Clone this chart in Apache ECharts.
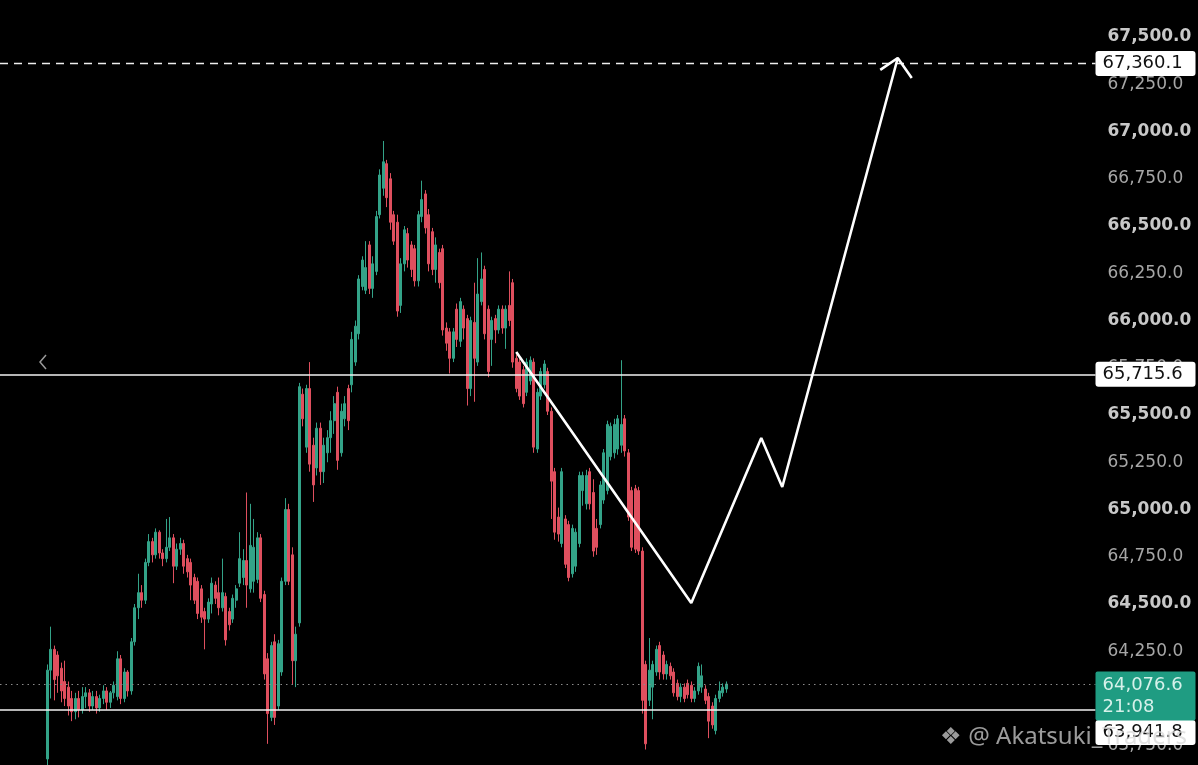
<!DOCTYPE html>
<html>
<head>
<meta charset="utf-8">
<script src="https://cdn.jsdelivr.net/npm/echarts@6/dist/echarts.min.js"></script>
<style>
html,body{margin:0;padding:0;background:#000;}
#c{width:1198px;height:765px;}
</style>
</head>
<body>
<div id="c"></div>
<script>
// candles: [open, close, low, high]
const candles = [
[63680,64150,63620,64180],[64150,64260,64000,64380],[64260,64100,63990,64280],[64230,64120,64030,64250],
[64160,64040,63980,64190],[64090,64000,63960,64200],[64060,63960,63910,64090],[64000,63930,63880,64040],
[63930,64000,63890,64030],[64000,63940,63900,64040],[63940,64010,63920,64060],[64010,64030,63950,64060],
[64030,63960,63930,64050],[63960,64010,63940,64040],[64010,63950,63920,64040],[63950,64000,63930,64020],
[64000,64040,63970,64070],[64040,63980,63940,64060],[63980,64030,63950,64040],[64030,64070,64000,64090],
[64010,64210,63990,64250],[64210,64000,63970,64230],[64000,64140,63980,64160],[64140,64040,64010,64150],
[64040,64300,64020,64320],[64300,64480,64280,64500],[64480,64560,64420,64660],[64560,64520,64480,64600],
[64520,64720,64500,64740],[64720,64830,64700,64870],[64830,64760,64720,64850],[64760,64880,64740,64900],
[64880,64770,64740,64890],[64770,64740,64700,64790],[64740,64800,64720,64950],[64800,64850,64780,64960],
[64850,64700,64610,64870],[64700,64790,64680,64820],[64790,64820,64760,64850],[64820,64700,64660,64840],
[64740,64670,64640,64760],[64720,64600,64520,64740],[64640,64520,64500,64660],[64620,64450,64420,64640],
[64580,64430,64400,64600],[64460,64420,64260,64480],[64420,64510,64400,64530],[64500,64610,64450,64640],
[64600,64530,64500,64620],[64560,64480,64440,64640],[64480,64560,64460,64740],[64540,64310,64280,64560],
[64460,64390,64360,64480],[64420,64530,64400,64550],[64520,64580,64480,64600],[64610,64740,64590,64880],
[64640,64730,64600,64790],[64730,64600,64480,65090],[64580,64810,64560,65030],[64620,64800,64560,64950],
[64630,64850,64610,64880],[64850,64530,64510,64870],[64550,64130,64100,64570],[64210,63920,63760,64240],
[63900,64280,63880,64300],[64300,63900,63860,64340],[63960,64290,63940,64310],[64140,64620,64120,64640],
[64620,65000,64600,65060],[65000,64620,64600,65030],[64760,64200,64075,64800],[64200,64340,64060,64380],
[64400,65650,64380,65670],[65610,65480,65440,65640],[65330,65640,65300,65660],[65640,65240,65200,65780],
[65340,65130,65040,65380],[65220,65430,65180,65460],[65430,65200,65130,65460],[65200,65340,65140,65380],
[65300,65380,65250,65420],[65380,65470,65300,65520],[65470,65560,65400,65600],[65620,65260,65210,65650],
[65300,65520,65280,65560],[65480,65560,65440,65600],[65640,65470,65420,65660],[65660,65900,65620,65940],
[65780,65970,65760,66000],[65930,66220,65900,66240],[66180,66320,66160,66340],[66160,66280,66140,66420],
[66400,66170,66140,66420],[66170,66300,66120,66340],[66260,66550,66240,66580],[66560,66770,66540,66800],
[66700,66840,66660,66950],[66830,66650,66600,66850],[66750,66520,66480,66780],[66560,66420,66400,66580],
[66520,66050,66020,66560],[66080,66300,66040,66330],[66300,66480,66260,66500],[66460,66320,66280,66490],
[66400,66270,66230,66420],[66380,66210,66180,66400],[66210,66560,66180,66580],[66550,66640,66520,66740],
[66670,66490,66460,66690],[66560,66300,66260,66590],[66470,66270,66240,66490],[66270,66400,66200,66440],
[66360,66200,66170,66380],[66380,65950,65920,66400],[65960,65880,65840,65990],[65940,65800,65720,65960],
[65800,65940,65780,65960],[66060,65900,65860,66090],[65890,66100,65860,66120],[66060,65960,65900,66080],
[66010,65640,65550,66030],[65640,66000,65600,66020],[65990,65800,65570,66200],[65780,66140,65760,66330],
[66100,66220,66080,66360],[66270,65930,65900,66290],[66060,65730,65700,66080],[65900,66000,65760,66020],
[66010,65950,65880,66030],[65950,66060,65930,66080],[66060,65960,65930,66080],[65960,66060,65850,66080],
[66080,66000,65970,66260],[66200,65780,65750,66220],[65800,65640,65620,65820],[65780,65600,65580,65800],
[65740,65560,65540,65760],[65620,65780,65600,65800],[65680,65790,65660,65810],[65780,65330,65300,65800],
[65320,65620,65300,65640],[65600,65730,65580,65750],[65660,65770,65640,65790],[65730,65520,65500,65750],
[65520,65150,64950,65540],[65200,64880,64840,65220],[64960,64870,64830,65010],[64820,65200,64800,65220],
[64950,64710,64690,64970],[64920,64640,64620,64940],[64660,64900,64640,64920],[64700,64880,64670,64900],
[64820,65180,64800,65200],[65100,65180,65020,65200],[65030,65180,65000,65210],[65200,65030,65000,65220],
[65090,64780,64750,65160],[64900,64800,64760,64950],[64920,65130,64900,65150],[65050,65300,65030,65320],
[65100,65450,65080,65470],[65280,65440,65260,65460],[65300,65450,65270,65480],[65320,65480,65290,65500],
[65340,65450,65300,65790],[65480,65310,65280,65500],[65300,64960,64940,65320],[65100,64800,64780,65120],
[65110,64790,64770,65130],[65100,64780,64760,65120],[64780,63990,63920,64800],[64180,63760,63730,64200],
[63990,64150,63960,64320],[64060,64180,63890,64200],[64140,64260,64120,64280],[64280,64140,64100,64300],
[64230,64130,64100,64250],[64130,64180,64100,64200],[64170,64120,64100,64190],[64140,64030,64010,64160],
[64080,64010,63990,64100],[64010,64060,63980,64080],[64060,64000,63980,64080],[64080,64020,64000,64100],
[64070,64000,63980,64090],[64000,64040,63980,64060],[64040,64170,64020,64190],[64060,64120,64030,64180],
[64050,63990,63970,64070],[64010,63880,63790,64030],[63960,63860,63840,63980],[63830,64000,63810,64020],
[64000,64040,63980,64090],[64030,64060,64010,64080],[64050,64076.6,64030,64090]
];
// price axis tick labels
const tickValues = [63750,64000,64250,64500,64750,65000,65250,65500,65750,66000,66250,66500,66750,67000,67250,67500];
// horizontal levels
const targetLevel = 67360.1;
const resistLevel = 65715.6;
const supportLevel = 63941.8;
const lastPrice = 64076.6;
const lastTime = '21:08';
// hand-drawn projection path: [slot index, price]
const arrowPath = [[147,65833],[197,64505],[217,65378],[223,65119],[256,67389]];
const arrowHead = [[251,67326],[256,67389],[260,67283]];

const TOTAL_SLOTS = 313;
const LEAD = 13;
const slots = Array.from({length: TOTAL_SLOTS}, (_, i) => String(i));
const fmt = v => Number(v).toLocaleString('en-US', {minimumFractionDigits: 1, maximumFractionDigits: 1});

const whiteLabel = {
  show: true, position: 'end', distance: 0,
  color: '#111', backgroundColor: '#fff', borderRadius: 3,
  padding: [4, 6, 3, 7], width: 87, fontSize: 18, fontFamily: 'DejaVu Sans',
  formatter: p => fmt(p.value)
};

const chart = echarts.init(document.getElementById('c'), null, {renderer: 'canvas'});
chart.setOption({
  backgroundColor: '#000',
  animation: false,
  grid: {left: 0, right: 102.5, top: 0, bottom: 0},
  xAxis: {type: 'category', data: slots, boundaryGap: true, show: false},
  yAxis: {
    type: 'value', position: 'right', min: 63648, max: 67696, scale: true,
    splitLine: {show: false}, axisLine: {show: false}, axisTick: {show: false},
    axisLabel: {
      customValues: tickValues, margin: 12, align: 'left',
      formatter: v => (v % 500 === 0 ? '{b|' + fmt(v) + '}' : '{r|' + fmt(v) + '}'),
      rich: {
        b: {fontSize: 17, fontWeight: 'bold', color: '#c8c8c8', fontFamily: 'DejaVu Sans'},
        r: {fontSize: 17, color: '#a6a6a6', fontFamily: 'DejaVu Sans'}
      }
    }
  },
  series: [
    {
      type: 'candlestick',
      data: candles.map((c, i) => [i + LEAD, c[0], c[1], c[2], c[3]]),
      encode: {x: 0, y: [1, 2, 3, 4]},
      barWidth: 2.4,
      itemStyle: {color: '#33a388', color0: '#df4f5e', borderColor: '#33a388', borderColor0: '#df4f5e', borderWidth: 1},
      markLine: {
        symbol: 'none', silent: true, animation: false,
        data: [
          {yAxis: targetLevel, lineStyle: {type: [8, 6], color: '#eeeeee', width: 1.4}, label: whiteLabel},
          {yAxis: resistLevel, lineStyle: {type: 'solid', color: '#f2f2f2', width: 1.6}, label: whiteLabel},
          {yAxis: supportLevel, lineStyle: {type: 'solid', color: '#f2f2f2', width: 1.6},
            label: Object.assign({}, whiteLabel, {offset: [0, 23]})},
          {yAxis: lastPrice, lineStyle: {type: [1.5, 4], color: '#8a8a8a', width: 1},
            label: {show: true, position: 'end', distance: 0, color: '#d6f1ea', backgroundColor: '#1f9c82',
              borderRadius: 2, padding: [3, 6, 2, 7], width: 87, fontSize: 18, lineHeight: 22,
              fontFamily: 'DejaVu Sans', offset: [0, 12],
              formatter: () => fmt(lastPrice) + '\n' + lastTime}}
        ]
      },
      z: 2
    },
    {
      type: 'line', data: arrowPath, symbol: 'none', silent: true, z: 5,
      lineStyle: {color: '#ffffff', width: 2.6}
    },
    {
      type: 'line', data: arrowHead, symbol: 'none', silent: true, z: 5,
      lineStyle: {color: '#ffffff', width: 2.6}
    }
  ],
  graphic: [
    {type: 'polyline', shape: {points: [[46, 355], [40, 362], [46, 369]]}, style: {stroke: '#9a9a9a', lineWidth: 1.5, fill: null}, z: 10},
    {type: 'text', left: 940, top: 725, z: 100,
      style: {text: '❖ @ Akatsuki_Traders', fill: 'rgba(215,215,215,0.72)', font: '24px "Noto Sans"'}}
  ]
});
</script>
</body>
</html>
